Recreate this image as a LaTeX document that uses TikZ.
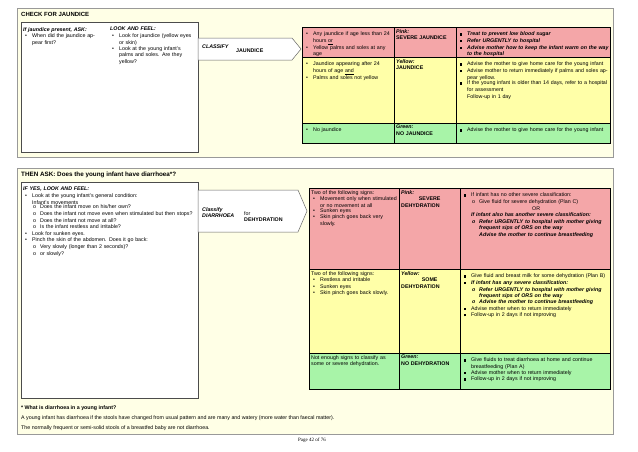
\documentclass[tikz,border=0pt]{standalone}
\usepackage{fontspec}
\setmainfont{Liberation Sans}
\newcommand\fs{\fontsize{5.3}{6.6}\selectfont}
\newcommand\itm[3]{\par\noindent\hbox to #1{\hspace{#2}#3\hfil}\parbox[t]{\dimexpr\hsize-#1\relax}}
\newcommand\bl{\itm{9pt}{2pt}{\textbullet}}
\newcommand\sq{\itm{9pt}{2pt}{\rule[0.3pt]{2.2pt}{2.2pt}}}
\newcommand\sub{\itm{17pt}{10pt}{o}}
\newcommand\ind{\itm{17pt}{0pt}{}}
\definecolor{pbg}{HTML}{FFFFE6}
\definecolor{pk}{HTML}{F4A6A8}
\definecolor{yl}{HTML}{FFFFA8}
\definecolor{gr}{HTML}{A8F4A8}
\begin{document}
\begin{tikzpicture}[x=1pt,y=-1pt,
 panel/.style={draw=gray!80,line width=0.8pt,fill=pbg},
 wbox/.style={draw=black!70,fill=white,line width=0.5pt},
 txt/.style={anchor=north west,inner sep=0pt,align=left,font=\fs},
 arr/.style={draw=black!60,fill=white,line width=0.5pt}]
\useasboundingbox (0,0) rectangle (638,451);
\fill[white] (0,0) rectangle (638,451);
% Panel 1
\draw[panel] (17,8) rectangle (613,157);
\node[txt,font=\fontsize{6}{7}\selectfont\bfseries] (t1) at (21,12) {CHECK FOR JAUNDICE};
\draw[wbox] (21,22) rectangle (198,152);
\node[txt,text width=80pt] (ask1) at (23,27) {\textbf{\textit{If jaundice present, ASK:}}\bl{When did the jaundice appear first?}};
\node[txt,text width=82pt] (look1) at (110,27) {\textbf{\textit{LOOK AND FEEL:}}\bl{Look for jaundice (yellow eyes or skin)}\bl{Look at the young infant's palms and soles. Are they yellow?}};
\draw[arr] (198,38) -- (292,38) -- (301,49) -- (292,60) -- (198,60) -- cycle;
\node[txt] (c1) at (202,45) {\textbf{\textit{CLASSIFY}}};
\node[txt] (c1b) at (236,49) {\textbf{JAUNDICE}};
% table 1
\fill[pk] (302,27) rectangle (610,57);
\fill[yl] (302,57) rectangle (610,123);
\fill[gr] (302,123) rectangle (610,143);
\draw[line width=0.6pt] (302,27) rectangle (610,143) (302,57)--(610,57) (302,123)--(610,123) (394,27)--(394,143) (456,27)--(456,143);
\node[txt,text width=88pt] (a1) at (304,29) {\bl{Any jaundice if age less than 24 hours \underline{or}}\bl{Yellow palms and soles at any age}};
\node[txt,text width=58pt] (b1) at (396,29) {\textbf{\textit{Pink:}}\par\centering\textbf{SEVERE JAUNDICE}};
\node[txt,text width=152pt] (r1) at (458,29) {\bfseries\itshape\sq{Treat to prevent low blood sugar}\sq{Refer URGENTLY to hospital}\sq{Advise mother how to keep the infant warm on the way to the hospital}};
\node[txt,text width=88pt] (a2) at (304,59) {\bl{Jaundice appearing after 24 hours of age \underline{and}}\bl{Palms and soles not yellow}};
\node[txt,text width=58pt] (b2) at (396,59) {\textbf{\textit{Yellow:}}\par\centering\textbf{JAUNDICE}};
\node[txt,text width=152pt] (r2) at (458,59) {\sq{Advise the mother to give home care for the young infant}\sq{Advise mother to return immediately if palms and soles appear yellow.}\sq{If the young infant is older than 14 days, refer to a hospital for assessment\\Follow-up in 1 day}};
\node[txt,text width=88pt] (a3) at (304,125) {\bl{No jaundice}};
\node[txt,text width=58pt] (b3) at (396,125) {\textbf{\textit{Green:}}\par\centering\textbf{NO JAUNDICE}};
\node[txt,text width=152pt] (r3) at (458,125) {\sq{Advise the mother to give home care for the young infant}};
% Panel 2
\draw[panel] (17,168) rectangle (613,434);
\node[txt,font=\fontsize{6.3}{7}\selectfont\bfseries] (t2) at (21,172) {THEN ASK: Does the young infant have diarrhoea*?};
\draw[wbox] (21,182) rectangle (198,398);
\node[txt,text width=172pt] (ask2) at (23,187) {\textbf{\textit{IF YES, LOOK AND FEEL:}}\bl{Look at the young infant's general condition:\\Infant's movements}\sub{Does the infant move on his/her own?}\sub{Does the infant not move even when stimulated but then stops?}\sub{Does the infant not move at all?}\sub{Is the infant restless and irritable?}\bl{Look for sunken eyes.}\bl{Pinch the skin of the abdomen. Does it go back:}\sub{Very slowly (longer than 2 seconds)?}\sub{or slowly?}};
\draw[arr] (198,190) -- (298,190) -- (307,211) -- (298,232) -- (198,232) -- cycle;
\node[txt,font=\fs\bfseries\itshape] (c2) at (202,207) {Classify\\DIARRHOEA};
\node[txt] (c2b) at (244,211) {for\\\textbf{DEHYDRATION}};
% table 2
\fill[pk] (309,188) rectangle (610,269);
\fill[yl] (309,269) rectangle (610,353);
\fill[gr] (309,353) rectangle (610,389);
\draw[line width=0.6pt] (309,188) rectangle (610,389) (309,269)--(610,269) (309,353)--(610,353) (399,188)--(399,389) (460,188)--(460,389);
\node[txt,text width=86pt] (d1) at (311,190) {Two of the following signs:\bl{Movement only when stimulated or no movement at all}\bl{Sunken eyes}\bl{Skin pinch goes back very slowly.}};
\node[txt,text width=57pt] (e1) at (401,190) {\textbf{\textit{Pink:}}\par\centering\bfseries SEVERE\\DEHYDRATION};
\node[txt,text width=148pt] (f1) at (462,190) {\sq{If infant has no other severe classification:}\sub{Give fluid for severe dehydration (Plan C)}\par\centering OR\par\raggedright\noindent\hspace{9pt}\parbox[t]{139pt}{\bfseries\itshape If infant also has another severe classification:}\par{\bfseries\itshape\sub{Refer URGENTLY to hospital with mother giving frequent sips of ORS on the way\\Advise the mother to continue breastfeeding}}};
\node[txt,text width=86pt] (d2) at (311,271) {Two of the following signs:\bl{Restless and irritable}\bl{Sunken eyes}\bl{Skin pinch goes back slowly.}};
\node[txt,text width=57pt] (e2) at (401,271) {\textbf{\textit{Yellow:}}\par\centering\bfseries SOME\\DEHYDRATION};
\node[txt,text width=148pt] (f2) at (462,271) {\sq{Give fluid and breast milk for some dehydration (Plan B)}\sq{\bfseries\itshape If infant has any severe classification:}{\bfseries\itshape\sub{Refer URGENTLY to hospital with mother giving frequent sips of ORS on the way}\sub{Advise the mother to continue breastfeeding}}\sq{Advise mother when to return immediately}\sq{Follow-up in 2 days if not improving}};
\node[txt,text width=86pt] (d3) at (311,355) {Not enough signs to classify as some or severe dehydration.};
\node[txt,text width=57pt] (e3) at (401,355) {\textbf{\textit{Green:}}\par\centering\textbf{NO DEHYDRATION}};
\node[txt,text width=148pt] (f3) at (462,355) {\sq{Give fluids to treat diarrhoea at home and continue breastfeeding (Plan A)}\sq{Advise mother when to return immediately}\sq{Follow-up in 2 days if not improving}};
% footnote
\node[txt] (n1) at (21,405) {\textbf{* What is diarrhoea in a young infant?}};
\node[txt] (n2) at (21,415) {A young infant has diarrhoea if the stools have changed from usual pattern and are many and watery (more water than faecal matter).};
\node[txt] (n3) at (21,425) {The normally frequent or semi-solid stools of a breastfed baby are not diarrhoea.};
\node[txt,font=\fontspec{Liberation Serif}\fontsize{5}{6}\selectfont] (pg) at (298,438) {Page 42 of 76};
\end{tikzpicture}
\end{document}
